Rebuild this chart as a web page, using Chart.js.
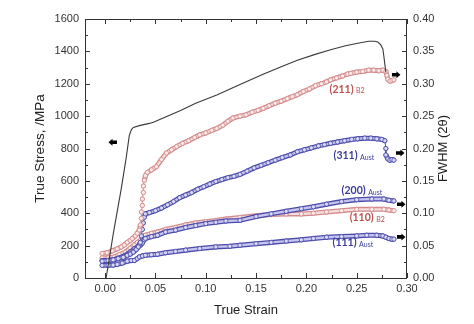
<!DOCTYPE html>
<html>
<head>
<meta charset="utf-8">
<script src="https://cdn.jsdelivr.net/npm/chart.js@4.4.0/dist/chart.umd.min.js"></script>
<style>
  html, body { margin: 0; padding: 0; background: #fff; }
  #wrap { width: 474px; height: 324px; }
</style>
</head>
<body>
<div id="wrap"><canvas id="chart" width="474" height="324"></canvas></div>
<script>
// axis ticks
const strainTicks = [0, 0.05, 0.10, 0.15, 0.20, 0.25, 0.30];
const stressTicks = [0, 200, 400, 600, 800, 1000, 1200, 1400, 1600];
const fwhmTicks = [0, 0.05, 0.10, 0.15, 0.20, 0.25, 0.30, 0.35, 0.40];

// true stress-strain curve (left axis)
const curveStrain = [0.001, 0.008, 0.016, 0.021, 0.024, 0.026, 0.028, 0.035, 0.044, 0.048, 0.060,
  0.075, 0.090, 0.111, 0.134, 0.157, 0.175, 0.191, 0.208, 0.224, 0.238, 0.251, 0.262, 0.268,
  0.271, 0.274, 0.276, 0.277, 0.278, 0.279];
const curveStress = [0, 270, 550, 745, 880, 915, 930, 943, 955, 962, 995,
  1035, 1080, 1130, 1195, 1258, 1305, 1345, 1380, 1410, 1433, 1450, 1463, 1463,
  1458, 1440, 1415, 1370, 1320, 1270];

// FWHM of each reflection (right axis)
const strain211 = [-0.003, 0.002, 0.007, 0.012, 0.016, 0.019, 0.022, 0.025, 0.027, 0.030, 0.032,
  0.034, 0.035, 0.036, 0.036, 0.037, 0.037, 0.038, 0.038, 0.039, 0.040, 0.042, 0.046, 0.051,
  0.056, 0.061, 0.066, 0.071, 0.077, 0.083, 0.089, 0.094, 0.100, 0.106, 0.111, 0.117, 0.122,
  0.127, 0.134, 0.140, 0.146, 0.152, 0.157, 0.163, 0.169, 0.175, 0.181, 0.186, 0.191, 0.197,
  0.203, 0.209, 0.215, 0.220, 0.224, 0.230, 0.236, 0.241, 0.244, 0.250, 0.256, 0.262, 0.267,
  0.272, 0.276, 0.279, 0.280, 0.281, 0.283, 0.285, 0.287];
const fwhm211 = [0.038, 0.039, 0.042, 0.045, 0.048, 0.051, 0.055, 0.058, 0.061, 0.065, 0.069,
  0.074, 0.082, 0.092, 0.102, 0.112, 0.122, 0.132, 0.142, 0.151, 0.158, 0.163, 0.167, 0.172,
  0.183, 0.193, 0.198, 0.203, 0.208, 0.212, 0.217, 0.221, 0.224, 0.228, 0.231, 0.236, 0.242,
  0.247, 0.250, 0.252, 0.256, 0.259, 0.262, 0.266, 0.270, 0.273, 0.277, 0.280, 0.283, 0.288,
  0.292, 0.297, 0.300, 0.303, 0.306, 0.309, 0.312, 0.315, 0.316, 0.318, 0.319, 0.321, 0.321,
  0.320, 0.321, 0.319, 0.313, 0.307, 0.304, 0.305, 0.306];

const strain311 = [-0.003, 0.003, 0.008, 0.013, 0.018, 0.022, 0.025, 0.028, 0.031, 0.033, 0.035,
  0.036, 0.037, 0.038, 0.039, 0.040, 0.044, 0.050, 0.056, 0.062, 0.068, 0.074, 0.080, 0.086,
  0.092, 0.098, 0.104, 0.110, 0.116, 0.122, 0.128, 0.134, 0.141, 0.148, 0.155, 0.162, 0.169,
  0.176, 0.184, 0.191, 0.198, 0.205, 0.212, 0.218, 0.224, 0.231, 0.238, 0.245, 0.251, 0.258,
  0.264, 0.270, 0.275, 0.278, 0.279, 0.279, 0.281, 0.283, 0.285, 0.287];
const fwhm311 = [0.026, 0.027, 0.028, 0.030, 0.032, 0.035, 0.037, 0.040, 0.044, 0.048, 0.055,
  0.065, 0.075, 0.085, 0.094, 0.099, 0.101, 0.104, 0.108, 0.113, 0.118, 0.124, 0.128, 0.132,
  0.137, 0.141, 0.145, 0.149, 0.152, 0.155, 0.157, 0.160, 0.165, 0.170, 0.174, 0.178, 0.182,
  0.186, 0.190, 0.195, 0.198, 0.201, 0.204, 0.206, 0.208, 0.210, 0.212, 0.214, 0.215, 0.216,
  0.216, 0.215, 0.214, 0.212, 0.200, 0.190, 0.184, 0.182, 0.183, 0.182];

const strain200 = [-0.003, 0.003, 0.009, 0.014, 0.020, 0.025, 0.029, 0.032, 0.035, 0.037, 0.039,
  0.040, 0.046, 0.052, 0.060, 0.070, 0.080, 0.090, 0.100, 0.110, 0.120, 0.134, 0.150, 0.165,
  0.180, 0.195, 0.207, 0.220, 0.235, 0.250, 0.265, 0.277, 0.282, 0.287];
const fwhm200 = [0.027, 0.027, 0.0285, 0.031, 0.035, 0.040, 0.045, 0.048, 0.0506, 0.054, 0.059,
  0.061, 0.064, 0.066, 0.071, 0.074, 0.078, 0.081, 0.084, 0.086, 0.088, 0.089, 0.095, 0.099,
  0.103, 0.107, 0.110, 0.114, 0.118, 0.121, 0.122, 0.122, 0.120, 0.119];

const strain110 = [-0.003, 0.003, 0.009, 0.014, 0.020, 0.025, 0.029, 0.032, 0.035, 0.037, 0.039,
  0.040, 0.046, 0.052, 0.060, 0.070, 0.080, 0.090, 0.100, 0.110, 0.120, 0.134, 0.150, 0.165,
  0.180, 0.195, 0.207, 0.220, 0.235, 0.250, 0.265, 0.277, 0.282, 0.287];
const fwhm110 = [0.031, 0.031, 0.0325, 0.036, 0.040, 0.046, 0.051, 0.055, 0.058, 0.061, 0.065,
  0.066, 0.069, 0.071, 0.075, 0.078, 0.082, 0.085, 0.087, 0.089, 0.091, 0.0935, 0.096, 0.098,
  0.099, 0.099, 0.100, 0.102, 0.104, 0.106, 0.106, 0.106, 0.105, 0.104];

const strain111 = [-0.003, 0.003, 0.008, 0.012, 0.017, 0.022, 0.026, 0.029, 0.032, 0.034, 0.037,
  0.040, 0.046, 0.052, 0.060, 0.070, 0.080, 0.094, 0.110, 0.124, 0.134, 0.150, 0.165, 0.180,
  0.195, 0.207, 0.220, 0.235, 0.250, 0.260, 0.270, 0.276, 0.279, 0.282, 0.285, 0.287];
const fwhm111 = [0.0195, 0.0195, 0.020, 0.021, 0.023, 0.026, 0.027, 0.027, 0.030, 0.0325, 0.034,
  0.035, 0.036, 0.0367, 0.039, 0.041, 0.043, 0.0455, 0.048, 0.049, 0.0506, 0.053, 0.055, 0.057,
  0.059, 0.061, 0.063, 0.064, 0.065, 0.066, 0.066, 0.065, 0.063, 0.061, 0.060, 0.060];

// peak labels: main text, subscript, anchor (strain, fwhm)
const peakLabels = [
  { text: '(211)', sub: 'B2', x: 0.223, y: 0.2916, color: '#c0504d' },
  { text: '(311)', sub: 'Aust', x: 0.227, y: 0.1884, color: '#3c3c9c' },
  { text: '(200)', sub: 'Aust', x: 0.235, y: 0.1342, color: '#3c3c9c' },
  { text: '(110)', sub: 'B2', x: 0.243, y: 0.0935, color: '#c0504d' },
  { text: '(111)', sub: 'Aust', x: 0.226, y: 0.0542, color: '#3c3c9c' }
];

// arrows telling which axis a curve belongs to
const axisArrows = [
  { x: 0.0078, y: 839, axis: 'y', dir: -1 },
  { x: 0.289, y: 0.314, axis: 'y2', dir: 1 },
  { x: 0.293, y: 0.193, axis: 'y2', dir: 1 },
  { x: 0.294, y: 0.114, axis: 'y2', dir: 1 },
  { x: 0.294, y: 0.0635, axis: 'y2', dir: 1 }
];

function toPoints(xs, ys) {
  return xs.map((x, i) => ({ x: x, y: ys[i] }));
}

// a segment climbing much faster than it moves right is drawn thin
function isSteep(p0, p1) {
  return Math.abs(p1.y - p0.y) > 2.5 * Math.abs(p1.x - p0.x) + 3;
}

const PINK = { edge: '#d38a8a', inner: '#f6dede', fill: 'rgba(252,236,236,0.9)' };
const BLUE = { edge: '#4a4aaa', inner: '#c4c4ee', fill: 'rgba(220,220,248,0.9)' };

function fwhmSet(label, xs, ys, c) {
  return {
    label: label,
    data: toPoints(xs, ys),
    yAxisID: 'y2',
    showLine: true,
    borderColor: c.edge,
    innerColor: c.inner,
    borderWidth: 5,
    segment: { borderWidth: ctx => isSteep(ctx.p0, ctx.p1) ? 1 : 5 },
    pointRadius: 2.1,
    pointBorderWidth: 0.8,
    pointBorderColor: c.edge,
    pointBackgroundColor: c.fill,
    tension: 0
  };
}

Chart.defaults.font.family = '"Liberation Sans", Arial, sans-serif';
Chart.defaults.color = '#333';

// light core inside each FWHM band, then the circles again on top of it
const tubePlugin = {
  id: 'tube',
  afterDatasetDraw(chart, args) {
    const ds = chart.data.datasets[args.index];
    if (!ds.innerColor) return;
    const ctx = chart.ctx;
    const pts = args.meta.data;
    ctx.save();
    ctx.strokeStyle = ds.innerColor;
    ctx.lineWidth = 2.4;
    ctx.lineCap = 'round';
    ctx.beginPath();
    for (let i = 1; i < pts.length; i++) {
      if (isSteep(pts[i - 1], pts[i])) continue;
      ctx.moveTo(pts[i - 1].x, pts[i - 1].y);
      ctx.lineTo(pts[i].x, pts[i].y);
    }
    ctx.stroke();
    ctx.restore();
    pts.forEach(p => p.draw(ctx, chart.chartArea));
  }
};

// frame, inward ticks, right axis title, peak labels and arrows
const decorPlugin = {
  id: 'decor',
  afterDraw(chart) {
    const { ctx, chartArea: a, scales } = chart;
    ctx.save();
    ctx.strokeStyle = '#333';
    ctx.lineWidth = 1;
    ctx.strokeRect(a.left + 0.5, a.top + 0.5, a.right - a.left - 1, a.bottom - a.top);

    ctx.beginPath();
    for (let i = 0; i <= 12; i++) {
      const px = Math.round(scales.x.getPixelForValue(i * 0.025)) + 0.5;
      const len = i % 2 === 0 ? 5 : 3;
      ctx.moveTo(px, a.bottom); ctx.lineTo(px, a.bottom - len);
      ctx.moveTo(px, a.top); ctx.lineTo(px, a.top + len);
    }
    for (let i = 0; i <= 16; i++) {
      const py = Math.round(scales.y.getPixelForValue(i * 100)) + 0.5;
      const len = i % 2 === 0 ? 5 : 3;
      ctx.moveTo(a.left, py); ctx.lineTo(a.left + len, py);
    }
    for (let i = 0; i <= 16; i++) {
      const py = Math.round(scales.y2.getPixelForValue(i * 0.025)) + 0.5;
      const len = i % 2 === 0 ? 5 : 3;
      ctx.moveTo(a.right, py); ctx.lineTo(a.right - len, py);
    }
    ctx.stroke();

    // right axis title reads bottom to top
    ctx.fillStyle = '#222';
    ctx.font = '13px "Liberation Sans", Arial, sans-serif';
    ctx.textAlign = 'center';
    ctx.textBaseline = 'middle';
    ctx.translate(443, (a.top + a.bottom) / 2);
    ctx.rotate(-Math.PI / 2);
    ctx.fillText('FWHM (2\u03b8)', 0, 0);
    ctx.setTransform(1, 0, 0, 1, 0, 0);

    ctx.textAlign = 'left';
    ctx.textBaseline = 'middle';
    peakLabels.forEach(l => {
      const px = scales.x.getPixelForValue(l.x);
      const py = scales.y2.getPixelForValue(l.y);
      ctx.fillStyle = l.color;
      ctx.font = 'bold 10.5px Lato, "Open Sans", sans-serif';
      ctx.fillText(l.text, px, py);
      const w = ctx.measureText(l.text).width;
      ctx.font = '7px Lato, "Open Sans", sans-serif';
      ctx.fillText(l.sub, px + w + 2.5, py + 2);
    });

    ctx.fillStyle = '#000';
    axisArrows.forEach(ar => {
      const cx = scales.x.getPixelForValue(ar.x);
      const cy = scales[ar.axis].getPixelForValue(ar.y);
      const d = ar.dir;
      ctx.beginPath();
      ctx.moveTo(cx + d * 4.5, cy);
      ctx.lineTo(cx + d * 0.5, cy - 3.5);
      ctx.lineTo(cx + d * 0.5, cy - 1.8);
      ctx.lineTo(cx - d * 4, cy - 1.8);
      ctx.lineTo(cx - d * 4, cy + 1.8);
      ctx.lineTo(cx + d * 0.5, cy + 1.8);
      ctx.lineTo(cx + d * 0.5, cy + 3.5);
      ctx.closePath();
      ctx.fill();
    });
    ctx.restore();
  }
};

const tickFont = { size: 11 };

new Chart(document.getElementById('chart'), {
  type: 'scatter',
  data: {
    datasets: [
      {
        label: 'True stress',
        data: toPoints(curveStrain, curveStress),
        yAxisID: 'y',
        showLine: true,
        borderColor: '#3a3a3a',
        borderWidth: 1.1,
        pointRadius: 0,
        tension: 0
      },
      fwhmSet('(211) B2', strain211, fwhm211, PINK),
      fwhmSet('(311) Aust', strain311, fwhm311, BLUE),
      fwhmSet('(200) Aust', strain200, fwhm200, BLUE),
      fwhmSet('(110) B2', strain110, fwhm110, PINK),
      fwhmSet('(111) Aust', strain111, fwhm111, BLUE)
    ]
  },
  options: {
    responsive: false,
    animation: false,
    layout: { padding: { top: 19, left: 0, right: 0, bottom: 0 } },
    plugins: { legend: { display: false }, tooltip: { enabled: false } },
    scales: {
      x: {
        type: 'linear',
        position: 'bottom',
        min: -0.02,
        max: 0.30,
        afterBuildTicks: s => { s.ticks = strainTicks.map(v => ({ value: v })); },
        afterFit: s => { s.height = 46; },
        grid: { display: false, drawTicks: false },
        border: { display: false },
        ticks: { padding: 4, font: tickFont, maxRotation: 0, autoSkip: false, callback: v => v.toFixed(2) },
        title: { display: true, text: 'True Strain', color: '#222', font: { size: 13 }, padding: { top: 0, bottom: 6 } }
      },
      y: {
        type: 'linear',
        position: 'left',
        min: 0,
        max: 1600,
        afterBuildTicks: s => { s.ticks = stressTicks.map(v => ({ value: v })); },
        afterFit: s => { s.width = 85; },
        grid: { display: false, drawTicks: false },
        border: { display: false },
        ticks: { padding: 6, font: tickFont, callback: v => String(v) },
        title: { display: true, text: 'True Stress, /MPa', color: '#222', font: { size: 13.5 }, padding: { top: 32, bottom: 0 } }
      },
      y2: {
        type: 'linear',
        position: 'right',
        min: 0,
        max: 0.4,
        afterBuildTicks: s => { s.ticks = fwhmTicks.map(v => ({ value: v })); },
        afterFit: s => { s.width = 67; },
        grid: { display: false, drawTicks: false },
        border: { display: false },
        ticks: { padding: 6, font: tickFont, callback: v => v.toFixed(2) }
      }
    }
  },
  plugins: [tubePlugin, decorPlugin]
});
</script>
</body>
</html>
